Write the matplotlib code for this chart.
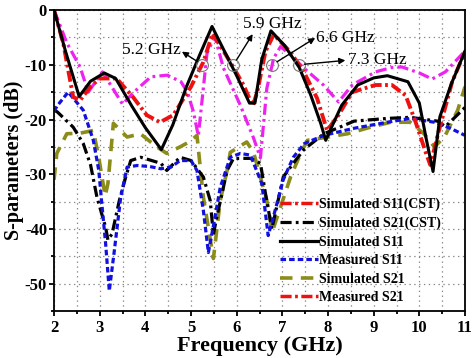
import numpy as np
import matplotlib
matplotlib.use('Agg')
from matplotlib import pyplot as plt
from matplotlib.lines import Line2D

plt.rcParams['font.family'] = ['Liberation Serif', 'DejaVu Serif']
plt.rcParams['lines.scale_dashes'] = False
plt.rcParams['axes.unicode_minus'] = False

# Simulated S11 (black solid)
f_s11 = [2.0, 2.25, 2.55, 2.8, 3.1, 3.35, 3.7, 4.0, 4.35, 4.6, 4.9, 5.2, 5.46, 5.7, 6.0, 6.28, 6.4, 6.55, 6.75,
         7.05, 7.37, 7.62, 7.84, 7.95, 8.1, 8.3, 8.65, 9.0, 9.3, 9.75, 10.0, 10.15, 10.3, 10.45, 10.7, 11.0]
s11 = [0, -7.5, -15.8, -13, -11.5, -12.5, -17.5, -21.5, -25.5, -21, -14, -8, -3, -7, -12, -17, -17, -9, -3.8,
       -6.5, -10.5, -15.5, -20.7, -23.8, -21, -17.4, -13.7, -12.4, -12.0, -13.1, -17, -23.5, -29.5, -19.5, -13.5, -7.5]

# Simulated S11 (CST) (red dash-dot)
f_s11_cst = [2.0, 2.2, 2.42, 2.57, 2.8, 3.0, 3.37, 3.73, 4.03, 4.32, 4.61, 5.0, 5.27, 5.47, 5.86, 6.15, 6.35, 6.45,
             6.63, 6.81, 7.17, 7.47, 7.76, 7.98, 8.23, 8.53, 9.04, 9.4, 9.7, 9.92, 10.14, 10.24, 10.42, 10.72, 11.0]
s11_cst = [0, -6, -15.9, -16.5, -14, -12.5, -12.5, -15.9, -19.2, -20.5, -19.2, -14, -9.5, -4.3, -9.5, -13.7, -17.5, -15,
           -7.6, -4.5, -7.6, -11.3, -16.1, -22, -19.2, -15, -13.7, -13.7, -15.6, -20.5, -26, -28.3, -22.3, -13.1, -7.6]

# magenta dash-dot
f_mag = [2.0, 2.28, 2.57, 2.75, 3.06, 3.24, 3.5, 3.75, 4.12, 4.48, 4.78, 4.92, 5.05, 5.16, 5.35, 5.52, 5.71, 6.08,
         6.37, 6.52, 6.66, 6.81, 6.96, 7.18, 7.47, 7.9, 8.23, 8.53, 9.04, 9.4, 9.62, 10.0, 10.28, 10.57, 11.0]
s_mag = [0, -6, -10.4, -15, -11.3, -13.7, -17.2, -15, -12.2, -11.9, -13.1, -15, -18.5, -23, -7.9, -4.8, -10.6, -17.4,
         -23.4, -27, -14.3, -8.8, -6.7, -8.2, -10.6, -13.7, -16.8, -13.7, -11.3, -10.5, -10.4, -11.5, -12.6, -11.3, -7.5]

# Measured S11 (blue dashed)
f_meas = [2.0, 2.07, 2.31, 2.64, 2.86, 2.98, 3.04, 3.13, 3.21, 3.32, 3.46, 3.6, 3.82, 4.1, 4.34, 4.56, 4.76, 5.0,
          5.13, 5.27, 5.38, 5.5, 5.64, 5.86, 6.08, 6.3, 6.55, 6.69, 6.8, 7.02, 7.24, 7.48, 7.91, 8.57, 9.3, 9.8,
          10.33, 10.68, 11.0]
s_meas = [-18.5, -17.5, -15, -18.3, -23.8, -29.3, -34.8, -42.7, -51.3, -44, -34.2, -28.7, -28.4, -28.6, -29, -28.7,
          -27.5, -27.5, -29.3, -36.6, -44.3, -39, -32.4, -26.9, -26.2, -26.5, -31.7, -41.2, -37.9, -31, -26.9, -24.4,
          -22.9, -21.6, -20.5, -19.8, -20.5, -21.6, -22.9]

# Simulated S21 (CST) (black dash-dot)
f_s21_cst = [2.0, 2.07, 2.42, 2.64, 2.8, 2.94, 3.13, 3.18, 3.27, 3.43, 3.57, 3.68, 3.9, 4.34, 4.47, 4.76, 5.0, 5.27,
             5.42, 5.49, 5.56, 5.68, 5.79, 5.93, 6.3, 6.52, 6.63, 6.77, 7.02, 7.24, 7.47, 7.91, 8.2, 8.57, 9.3, 9.8,
             10.4, 10.57, 11.0]
s21_cst = [-18.3, -18.6, -21.4, -24.4, -28.3, -34.2, -39.7, -42, -40.9, -34.8, -30.5, -27.5, -26.9, -28, -29.3, -26.9,
           -27.5, -30.5, -34.8, -41, -38, -33.5, -29.3, -27.1, -27.1, -28, -33.5, -40, -30.5, -28, -25.5, -22.6, -21.6,
           -20.3, -19.8, -19.6, -20.3, -21.3, -17.8]

# Simulated S21 (olive long dash)
f_s21 = [2.0, 2.06, 2.28, 2.57, 2.86, 2.98, 3.12, 3.18, 3.3, 3.6, 3.89, 4.25, 4.47, 4.76, 4.98, 5.13, 5.27, 5.49,
         5.64, 5.79, 5.86, 6.22, 6.37, 6.66, 6.78, 7.18, 7.4, 7.55, 7.99, 8.43, 8.93, 9.37, 9.8, 10.1, 10.33, 10.55,
         10.84, 11.0]
s21 = [-31, -26.2, -22.6, -22.5, -22, -27, -34, -31.7, -20.7, -23.2, -22.6, -25, -26.2, -25, -24, -22.9, -34.2, -45.4,
       -34.8, -29.3, -26, -24.1, -26, -34.8, -40.5, -30.5, -26.2, -23.8, -23.2, -22.6, -21.4, -20.5, -20.5, -22.6, -25,
       -23.2, -18.3, -14]

# -10 dB markers and labels
mark_f = [5.25, 5.93, 6.78, 7.36]
mark_db = [-10, -10, -10, -10]
mark_txt = ['5.2 GHz', '5.9 GHz', '6.6 GHz', '7.3 GHz']
txt_pos = [(4.13, -7.3), (6.78, -2.6), (8.38, -5.1), (9.08, -9.2)]
head_pos = [(4.8, -7.6), (6.35, -4.4), (7.72, -5.1), (8.38, -9.2)]

fig = plt.figure(figsize=(4.74, 3.58), dpi=100)
ax = fig.add_axes([0.114, 0.131, 0.867, 0.841])

ax.plot(f_s21, s21, color='#8c8c1a', lw=2.6, dashes=(9, 6))
ax.plot(f_s21_cst, s21_cst, color='black', lw=2.3, dashes=(8, 3, 2, 3))
ax.plot(f_meas, s_meas, color='#1010e0', lw=2.3, dashes=(4, 2.2))
ax.plot(f_mag, s_mag, color='#ee22ee', lw=2.3, dashes=(8, 3, 2, 3))
ax.plot(f_s11_cst, s11_cst, color='#ee1111', lw=2.8, dashes=(8, 2.5, 2, 2.5))
ax.plot(f_s11, s11, color='black', lw=2.2)

ax.plot(mark_f, mark_db, 'o', ms=8.5, mfc='none', mec='#777777', mew=0.8)
for (fx, dy), (tx, ty), (hx, hy), t in zip(zip(mark_f, mark_db), txt_pos, head_pos, mark_txt):
    ax.text(tx, ty, t, fontsize=12.5, ha='center', va='center')
    ax.annotate('', xy=(hx, hy), xytext=(fx, dy),
                arrowprops=dict(arrowstyle='-|>', color='black', lw=1.0, mutation_scale=9, shrinkA=4, shrinkB=0))

ax.set_xlim(2, 11)
ax.set_ylim(-55, 0)
ax.set_xticks(np.arange(2, 12, 1))
ax.set_xticks(np.arange(2, 11.01, 0.5), minor=True)
ax.set_yticks(np.arange(-50, 1, 10))
ax.set_yticks(np.arange(-55, 0.1, 5), minor=True)
ax.grid(True, which='both', ls=(0, (1, 2.5)), color='#888888', lw=0.9)
ax.tick_params(which='both', direction='out', width=1.3, labelsize=12)
ax.tick_params(axis='y', pad=1.5)
ax.tick_params(axis='x', pad=3)
ax.tick_params(which='major', length=3.5)
ax.tick_params(which='minor', length=2.5)
for lab in ax.get_xticklabels() + ax.get_yticklabels():
    lab.set_fontweight('bold')
for sp in ax.spines.values():
    sp.set_linewidth(1.3)

ax.set_xlabel('Frequency (GHz)', fontsize=16, fontweight='bold', labelpad=0)
ax.set_ylabel('S-parameters (dB)', fontsize=14.5, fontweight='bold')
ax.yaxis.set_label_coords(-0.073, 0.5)

handles = [
    Line2D([], [], color='#ee1111', lw=2.5, dashes=(8, 2.5, 2, 2.5)),
    Line2D([], [], color='black', lw=2.3, dashes=(8, 3, 2, 3)),
    Line2D([], [], color='black', lw=2.3),
    Line2D([], [], color='#1010e0', lw=2.3, dashes=(4, 2.2)),
    Line2D([], [], color='#8c8c1a', lw=2.6, dashes=(9, 6)),
    Line2D([], [], color='#ee1111', lw=2.5, dashes=(8, 2.5, 2, 2.5)),
]
labels = ['Simulated S11(CST)', 'Simulated S21(CST)', 'Simulated S11', 'Measured S11', 'Simulated S21', 'Measured S21']
ax.legend(handles, labels, loc='lower left', bbox_to_anchor=(0.53, -0.005), frameon=False,
          prop=dict(size=10, weight='bold'), handlelength=2.7, handletextpad=0.1, labelspacing=0.4,
          borderaxespad=0.2)

fig.savefig('out.png', dpi=100)
